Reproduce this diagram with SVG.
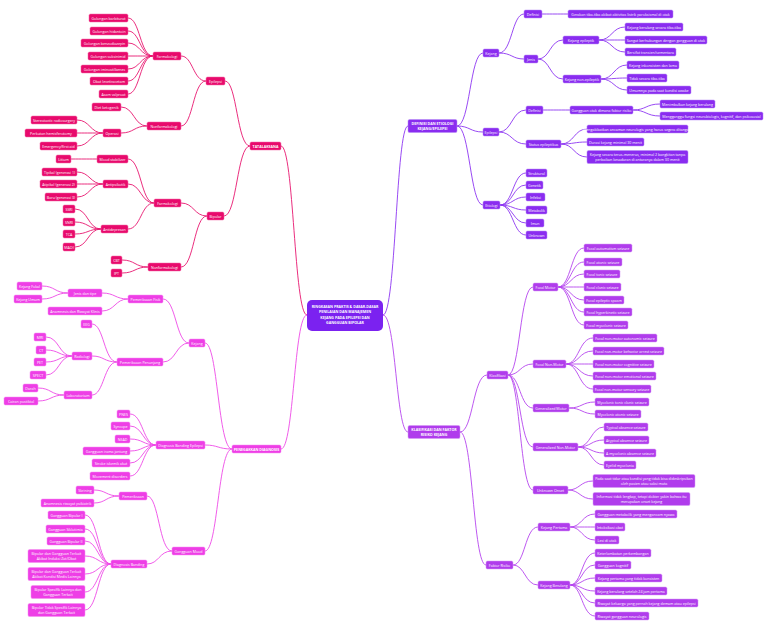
<svg xmlns="http://www.w3.org/2000/svg" width="768" height="629" viewBox="0 0 768 629">
<style>
text{font-family:"Open Sans","Liberation Sans",sans-serif;font-size:3.6px;fill:#fff;text-anchor:middle;dominant-baseline:central}
.b text{font-weight:bold}
path{fill:none;stroke-width:0.9}
.c1 path{stroke:#e8166f}.c2 path{stroke:#ee4ae6}.c3 path{stroke:#8d35f2}.c4 path{stroke:#b545ee}
.n1 rect{fill:#e80a6c;stroke:#f26aa5;stroke-width:0.5}
.n2 rect{fill:#ee3ee6;stroke:#f58ef0;stroke-width:0.5}
.n3 rect{fill:#8a2cf0;stroke:#b58af7;stroke-width:0.5}
.n4 rect{fill:#b03cec;stroke:#d59af5;stroke-width:0.5}
</style>
<rect width="768" height="629" fill="#fff"/>
<g id="connectors">
<g class="c1">
<path d="M307 315C294 315 294 146 281 146"/>
<path d="M250 146C237 146 237 81 225 81M250 146C237 146 237 216 224 216"/>
<path d="M206 81C193 81 193 56 181 56M206 81C193 81 193 126 181 126"/>
<path d="M153 56C140 56 140 18 128 18M153 56C140 56 140 31 128 31M153 56C140 56 140 43 128 43M153 56C140 56 140 56 128 56M153 56C140 56 140 69 128 69M153 56C140 56 140 81 128 81M153 56C140 56 140 94 128 94"/>
<path d="M147 126C134 126 134 107 121 107M147 126C134 126 134 133 121 133"/>
<path d="M103 133C90 133 90 120 77 120M103 133C90 133 90 133 77 133M103 133C90 133 90 146 77 146"/>
<path d="M207 216C194 216 194 203 181 203M207 216C194 216 194 267 181 267"/>
<path d="M154 203C141 203 141 159 128 159M154 203C141 203 141 184 128 184M154 203C141 203 141 229 128 229"/>
<path d="M97 159C84 159 84 159 71 159"/>
<path d="M103 184C90 184 90 172 77 172M103 184C90 184 90 184 77 184M103 184C90 184 90 197 77 197"/>
<path d="M101 229C88 229 88 209 75 209M101 229C88 229 88 222 75 222M101 229C88 229 88 234 75 234M101 229C88 229 88 247 75 247"/>
<path d="M148 267C135 267 135 260 122 260M148 267C135 267 135 273 122 273"/>
</g>
<g class="c2">
<path d="M307 315C294 315 294 449 281 449"/>
<path d="M232 449C218 449 218 343 205 343M232 449C218 449 218 445 205 445M232 449C218 449 218 551 205 551"/>
<path d="M189 343C176 343 176 299 163 299M189 343C176 343 176 362 163 362"/>
<path d="M128 299C115 299 115 293 102 293M128 299C115 299 115 311 102 311"/>
<path d="M68 293C55 293 55 286 42 286M68 293C55 293 55 299 42 299"/>
<path d="M117 362C104 362 104 324 92 324M117 362C104 362 104 356 92 356M117 362C104 362 104 395 92 395"/>
<path d="M72 356C59 356 59 337 46 337M72 356C59 356 59 350 46 350M72 356C59 356 59 362 46 362M72 356C59 356 59 375 46 375"/>
<path d="M64 395C51 395 51 388 38 388M64 395C51 395 51 401 38 401"/>
<path d="M156 445C143 445 143 414 130 414M156 445C143 445 143 426 130 426M156 445C143 445 143 439 130 439M156 445C143 445 143 451 130 451M156 445C143 445 143 463 130 463M156 445C143 445 143 476 130 476"/>
<path d="M172 551C159 551 159 496 147 496M172 551C159 551 159 564 147 564"/>
<path d="M119 496C106 496 106 490 94 490M119 496C106 496 106 503 94 503"/>
<path d="M111 564C98 564 98 515 85 515M111 564C98 564 98 529 85 529M111 564C98 564 98 541 85 541M111 564C98 564 98 556 85 556M111 564C98 564 98 574 85 574M111 564C98 564 98 592 85 592M111 564C98 564 98 610 85 610"/>
</g>
<g class="c3">
<path d="M383 315C396 315 396 126 408 126"/>
<path d="M457 126C470 126 470 53 483 53M457 126C470 126 470 132 483 132M457 126C470 126 470 205 483 205"/>
<path d="M499 53C512 53 512 14 524 14M499 53C512 53 512 59 524 59"/>
<path d="M542 14C555 14 555 14 568 14"/>
<path d="M538 59C550 59 550 40 563 40M538 59C550 59 550 79 563 79"/>
<path d="M599 40C612 40 612 27 625 27M599 40C612 40 612 40 625 40M599 40C612 40 612 52 625 52"/>
<path d="M601 79C614 79 614 65 627 65M601 79C614 79 614 78 627 78M601 79C614 79 614 90 627 90"/>
<path d="M499 132C512 132 512 110 526 110M499 132C512 132 512 144 526 144"/>
<path d="M543 110C556 110 556 110 570 110"/>
<path d="M633 110C646 110 646 104 660 104M633 110C646 110 646 116 660 116"/>
<path d="M561 144C574 144 574 129 587 129M561 144C574 144 574 142 587 142M561 144C574 144 574 157 587 157"/>
<path d="M500 205C513 205 513 173 526 173M500 205C513 205 513 185 526 185M500 205C513 205 513 197 526 197M500 205C513 205 513 210 526 210M500 205C513 205 513 223 526 223M500 205C513 205 513 235 526 235"/>
</g>
<g class="c4">
<path d="M383 315C396 315 396 432 408 432"/>
<path d="M460 432C473 432 473 375 487 375M460 432C473 432 473 565 486 565"/>
<path d="M508 375C520 375 520 287 533 287M508 375C520 375 520 364 533 364M508 375C520 375 520 408 533 408M508 375C520 375 520 447 533 447M508 375C520 375 520 490 533 490"/>
<path d="M558 287C571 287 571 248 584 248M558 287C571 287 571 262 584 262M558 287C571 287 571 274 584 274M558 287C571 287 571 287 584 287M558 287C571 287 571 300 584 300M558 287C571 287 571 312 584 312M558 287C571 287 571 325 584 325"/>
<path d="M566 364C579 364 579 338 593 338M566 364C579 364 579 351 593 351M566 364C579 364 579 364 593 364M566 364C579 364 579 376 593 376M566 364C579 364 579 389 593 389"/>
<path d="M569 408C582 408 582 402 595 402M569 408C582 408 582 414 595 414"/>
<path d="M578 447C591 447 591 427 604 427M578 447C591 447 591 440 604 440M578 447C591 447 591 453 604 453M578 447C591 447 591 465 604 465"/>
<path d="M568 490C580 490 580 481 593 481M568 490C580 490 580 499 593 499"/>
<path d="M513 565C525 565 525 527 538 527M513 565C525 565 525 585 538 585"/>
<path d="M570 527C582 527 582 514 595 514M570 527C582 527 582 527 595 527M570 527C582 527 582 540 595 540"/>
<path d="M570 585C582 585 582 553 595 553M570 585C582 585 582 565 595 565M570 585C582 585 582 578 595 578M570 585C582 585 582 591 595 591M570 585C582 585 582 603 595 603M570 585C582 585 582 616 595 616"/>
</g>
</g>
<g id="center" class="b"><rect x="307" y="300" width="76" height="31" rx="5" fill="#7b22f0"/><text x="345" y="306">RINGKASAN PRAKTIS &amp; DASAR-DASAR</text><text x="345" y="311.5">PENILAIAN DAN MANAJEMEN</text><text x="345" y="317">KEJANG PADA EPILEPSI DAN</text><text x="345" y="322.5">GANGGUAN BIPOLAR</text></g>
<g class="n1">
<g id="tatalaksana" class="b"><rect x="250" y="142" width="31" height="8" rx="1.5"/><text x="265.5" y="146">TATALAKSANA</text></g>
<g id="epilepsi-t"><rect x="206" y="77" width="19" height="8" rx="1.5"/><text x="215.5" y="81">Epilepsi</text></g>
<g id="bipolar-t"><rect x="207" y="212" width="17" height="8" rx="1.5"/><text x="215.5" y="216">Bipolar</text></g>
<g id="farm1"><rect x="153" y="52" width="28" height="8" rx="1.5"/><text x="167" y="56">Farmakologi</text></g>
<g id="nonfarm1"><rect x="147" y="122" width="34" height="8" rx="1.5"/><text x="164" y="126">Nonfarmakologi</text></g>
<g id="g1"><rect x="89" y="14" width="39" height="8" rx="1.5"/><text x="108.5" y="18">Golongan barbiturat</text></g>
<g id="g2"><rect x="90" y="27" width="38" height="8" rx="1.5"/><text x="109" y="31">Golongan hidantoin</text></g>
<g id="g3"><rect x="81" y="39" width="47" height="8" rx="1.5"/><text x="104.5" y="43">Golongan benzodiazepin</text></g>
<g id="g4"><rect x="88" y="52" width="40" height="8" rx="1.5"/><text x="108" y="56">Golongan suksinimid</text></g>
<g id="g5"><rect x="81" y="65" width="47" height="8" rx="1.5"/><text x="104.5" y="69">Golongan iminostilbenes</text></g>
<g id="g6"><rect x="90" y="77" width="38" height="8" rx="1.5"/><text x="109" y="81">Obat levetiracetam</text></g>
<g id="g7"><rect x="99" y="90" width="29" height="8" rx="1.5"/><text x="113.5" y="94">Asam valproat</text></g>
<g id="diet"><rect x="92" y="103" width="29" height="8" rx="1.5"/><text x="106.5" y="107">Diet ketogenik</text></g>
<g id="operasi"><rect x="103" y="129" width="18" height="8" rx="1.5"/><text x="112" y="133">Operasi</text></g>
<g id="op1"><rect x="31" y="116" width="46" height="8" rx="1.5"/><text x="54" y="120">Stereotactic radiosurgery</text></g>
<g id="op2"><rect x="25" y="129" width="52" height="8" rx="1.5"/><text x="51" y="133">Perkutan hemisferotomy</text></g>
<g id="op3"><rect x="40" y="142" width="37" height="8" rx="1.5"/><text x="58.5" y="146">Emergency/first aid</text></g>
<g id="farm2"><rect x="154" y="199" width="27" height="8" rx="1.5"/><text x="167.5" y="203">Farmakologi</text></g>
<g id="nonfarm2"><rect x="148" y="263" width="33" height="8" rx="1.5"/><text x="164.5" y="267">Nonfarmakologi</text></g>
<g id="mood"><rect x="97" y="155" width="31" height="8" rx="1.5"/><text x="112.5" y="159">Mood stabilizer</text></g>
<g id="litium"><rect x="56" y="155" width="15" height="8" rx="1.5"/><text x="63.5" y="159">Litium</text></g>
<g id="antipsi"><rect x="103" y="180" width="25" height="8" rx="1.5"/><text x="115.5" y="184">Antipsikotik</text></g>
<g id="ap1"><rect x="42" y="168" width="35" height="8" rx="1.5"/><text x="59.5" y="172">Tipikal (generasi 1)</text></g>
<g id="ap2"><rect x="40" y="180" width="37" height="8" rx="1.5"/><text x="58.5" y="184">Atipikal (generasi 2)</text></g>
<g id="ap3"><rect x="45" y="193" width="32" height="8" rx="1.5"/><text x="61" y="197">Baru (generasi 3)</text></g>
<g id="antidep"><rect x="101" y="225" width="27" height="8" rx="1.5"/><text x="114.5" y="229">Antidepresan</text></g>
<g id="ssri"><rect x="63" y="205" width="12" height="8" rx="1.5"/><text x="69" y="209">SSRI</text></g>
<g id="snri"><rect x="63" y="218" width="12" height="8" rx="1.5"/><text x="69" y="222">SNRI</text></g>
<g id="tca"><rect x="63" y="230" width="12" height="8" rx="1.5"/><text x="69" y="234">TCA</text></g>
<g id="maoi"><rect x="63" y="243" width="12" height="8" rx="1.5"/><text x="69" y="247">MAOI</text></g>
<g id="cbt"><rect x="111" y="256" width="11" height="8" rx="1.5"/><text x="116.5" y="260">CBT</text></g>
<g id="ipt"><rect x="111" y="269" width="11" height="8" rx="1.5"/><text x="116.5" y="273">IPT</text></g>
</g>
<g class="n2">
<g id="penegakkan" class="b"><rect x="232" y="445" width="49" height="8" rx="1.5"/><text x="256.5" y="449">PENEGAKKAN DIAGNOSIS</text></g>
<g id="kejang-d"><rect x="189" y="339" width="16" height="8" rx="1.5"/><text x="197" y="343">Kejang</text></g>
<g id="pfisik"><rect x="128" y="295" width="35" height="8" rx="1.5"/><text x="145.5" y="299">Pemeriksaan Fisik</text></g>
<g id="jenis-tipe"><rect x="68" y="289" width="34" height="8" rx="1.5"/><text x="85" y="293">Jenis dan tipe</text></g>
<g id="kfokal"><rect x="17" y="282" width="25" height="8" rx="1.5"/><text x="29.5" y="286">Kejang Fokal</text></g>
<g id="kumum"><rect x="14" y="295" width="28" height="8" rx="1.5"/><text x="28" y="299">Kejang Umum</text></g>
<g id="anamnesis"><rect x="48" y="307" width="54" height="8" rx="1.5"/><text x="75" y="311">Anamnesis dan Riwayat Klinis</text></g>
<g id="ppenunjang"><rect x="117" y="358" width="46" height="8" rx="1.5"/><text x="140" y="362">Pemeriksaan Penunjang</text></g>
<g id="eeg"><rect x="81" y="320" width="11" height="8" rx="1.5"/><text x="86.5" y="324">EEG</text></g>
<g id="radiologi"><rect x="72" y="352" width="20" height="8" rx="1.5"/><text x="82" y="356">Radiologi</text></g>
<g id="mri"><rect x="34" y="333" width="12" height="8" rx="1.5"/><text x="40" y="337">MRI</text></g>
<g id="ct"><rect x="36" y="346" width="10" height="8" rx="1.5"/><text x="41" y="350">CT</text></g>
<g id="pet"><rect x="34" y="358" width="12" height="8" rx="1.5"/><text x="40" y="362">PET</text></g>
<g id="spect"><rect x="30" y="371" width="16" height="8" rx="1.5"/><text x="38" y="375">SPECT</text></g>
<g id="lab"><rect x="64" y="391" width="28" height="8" rx="1.5"/><text x="78" y="395">Laboratorium</text></g>
<g id="darah"><rect x="23" y="384" width="15" height="8" rx="1.5"/><text x="30.5" y="388">Darah</text></g>
<g id="cairan"><rect x="4" y="397" width="34" height="8" rx="1.5"/><text x="21" y="401">Cairan postiktal</text></g>
<g id="dbe"><rect x="156" y="441" width="49" height="8" rx="1.5"/><text x="180.5" y="445">Diagnosis Banding Epilepsi</text></g>
<g id="pnes"><rect x="117" y="410" width="13" height="8" rx="1.5"/><text x="123.5" y="414">PNES</text></g>
<g id="syncope"><rect x="111" y="422" width="19" height="8" rx="1.5"/><text x="120.5" y="426">Syncope</text></g>
<g id="nead"><rect x="115" y="435" width="15" height="8" rx="1.5"/><text x="122.5" y="439">NEAD</text></g>
<g id="irama"><rect x="83" y="447" width="47" height="8" rx="1.5"/><text x="106.5" y="451">Gangguan irama jantung</text></g>
<g id="stroke"><rect x="92" y="459" width="38" height="8" rx="1.5"/><text x="111" y="463">Stroke iskemik akut</text></g>
<g id="movement"><rect x="90" y="472" width="40" height="8" rx="1.5"/><text x="110" y="476">Movement disorders</text></g>
<g id="gmood"><rect x="172" y="547" width="33" height="8" rx="1.5"/><text x="188.5" y="551">Gangguan Mood</text></g>
<g id="pemeriksaan"><rect x="119" y="492" width="28" height="8" rx="1.5"/><text x="133" y="496">Pemeriksaan</text></g>
<g id="skrining"><rect x="76" y="486" width="18" height="8" rx="1.5"/><text x="85" y="490">Skrining</text></g>
<g id="anampsi"><rect x="41" y="499" width="53" height="8" rx="1.5"/><text x="67.5" y="503">Anamnesis riwayat psikiatrik</text></g>
<g id="db"><rect x="111" y="560" width="36" height="8" rx="1.5"/><text x="129" y="564">Diagnosis Banding</text></g>
<g id="db1"><rect x="48" y="511" width="37" height="8" rx="1.5"/><text x="66.5" y="515">Gangguan Bipolar I</text></g>
<g id="db2"><rect x="46" y="525" width="39" height="8" rx="1.5"/><text x="65.5" y="529">Gangguan Siklotimia</text></g>
<g id="db3"><rect x="47" y="537" width="38" height="8" rx="1.5"/><text x="66" y="541">Gangguan Bipolar II</text></g>
<g id="db4"><rect x="28" y="549.5" width="57" height="13" rx="1.5"/><text x="56.5" y="553.5">Bipolar dan Gangguan Terkait</text><text x="56.5" y="558.5">Akibat Induksi Zat/Obat</text></g>
<g id="db5"><rect x="28" y="567.5" width="57" height="13" rx="1.5"/><text x="56.5" y="571.5">Bipolar dan Gangguan Terkait</text><text x="56.5" y="576.5">Akibat Kondisi Medis Lainnya</text></g>
<g id="db6"><rect x="31" y="585.5" width="54" height="13" rx="1.5"/><text x="58" y="589.5">Bipolar Spesifik Lainnya dan</text><text x="58" y="594.5">Gangguan Terkait</text></g>
<g id="db7"><rect x="28" y="603.5" width="57" height="13" rx="1.5"/><text x="56.5" y="607.5">Bipolar Tidak Spesifik Lainnya</text><text x="56.5" y="612.5">dan Gangguan Terkait</text></g>
</g>
<g class="n3">
<g id="definisi-etiologi" class="b"><rect x="408" y="119.5" width="49" height="13" rx="1.5"/><text x="432.5" y="123.5">DEFINISI DAN ETIOLOGI</text><text x="432.5" y="128.5">KEJANG/EPILEPSI</text></g>
<g id="kejang-r"><rect x="483" y="49" width="16" height="8" rx="1.5"/><text x="491" y="53">Kejang</text></g>
<g id="epilepsi-r"><rect x="483" y="128" width="16" height="8" rx="1.5"/><text x="491" y="132">Epilepsi</text></g>
<g id="etiologi"><rect x="483" y="201" width="17" height="8" rx="1.5"/><text x="491.5" y="205">Etiologi</text></g>
<g id="def1"><rect x="524" y="10" width="18" height="8" rx="1.5"/><text x="533" y="14">Definisi</text></g>
<g id="def1t"><rect x="568" y="10" width="105" height="8" rx="1.5"/><text x="620.5" y="14">Gerakan tiba-tiba akibat aktivitas listrik paroksismal di otak</text></g>
<g id="jenis"><rect x="524" y="55" width="14" height="8" rx="1.5"/><text x="531" y="59">Jenis</text></g>
<g id="kep"><rect x="563" y="36" width="36" height="8" rx="1.5"/><text x="581" y="40">Kejang epileptik</text></g>
<g id="knon"><rect x="563" y="75" width="38" height="8" rx="1.5"/><text x="582" y="79">Kejang non-epileptik</text></g>
<g id="kep1"><rect x="625" y="23" width="58" height="8" rx="1.5"/><text x="654" y="27">Kejang berulang secara tiba-tiba</text></g>
<g id="kep2"><rect x="625" y="36" width="82" height="8" rx="1.5"/><text x="666" y="40">Sangat berhubungan dengan gangguan di otak</text></g>
<g id="kep3"><rect x="625" y="48" width="51" height="8" rx="1.5"/><text x="650.5" y="52">Bersifat transien/sementara</text></g>
<g id="kn1"><rect x="627" y="61" width="52" height="8" rx="1.5"/><text x="653" y="65">Kejang inkonsisten dan lama</text></g>
<g id="kn2"><rect x="627" y="74" width="40" height="8" rx="1.5"/><text x="647" y="78">Tidak secara tiba-tiba</text></g>
<g id="kn3"><rect x="627" y="86" width="64" height="8" rx="1.5"/><text x="659" y="90">Umumnya pada saat kondisi awake</text></g>
<g id="def2"><rect x="526" y="106" width="17" height="8" rx="1.5"/><text x="534.5" y="110">Definisi</text></g>
<g id="def2t"><rect x="570" y="106" width="63" height="8" rx="1.5"/><text x="601.5" y="110">Gangguan otak dimana faktor risiko</text></g>
<g id="d2a"><rect x="660" y="100" width="55" height="8" rx="1.5"/><text x="687.5" y="104">Menimbulkan kejang berulang</text></g>
<g id="d2b"><rect x="660" y="112" width="103" height="8" rx="1.5"/><text x="711.5" y="116">Mengganggu fungsi neurobiologis, kognitif, dan psikososial</text></g>
<g id="status"><rect x="526" y="140" width="35" height="8" rx="1.5"/><text x="543.5" y="144">Status epileptikus</text></g>
<g id="s1"><rect x="587" y="125" width="101" height="8" rx="1.5"/><text x="637.5" y="129">Mengakibatkan ancaman neurologis yang harus segera ditangani</text></g>
<g id="s2"><rect x="587" y="138" width="57" height="8" rx="1.5"/><text x="615.5" y="142">Durasi kejang minimal 30 menit</text></g>
<g id="s3"><rect x="587" y="150.5" width="101" height="13" rx="1.5"/><text x="637.5" y="154.5">Kejang secara terus-menerus, minimal 2 bangkitan tanpa</text><text x="637.5" y="159.5">perbaikan kesadaran di antaranya dalam 30 menit</text></g>
<g id="e1"><rect x="526" y="169" width="21" height="8" rx="1.5"/><text x="536.5" y="173">Struktural</text></g>
<g id="e2"><rect x="526" y="181" width="17" height="8" rx="1.5"/><text x="534.5" y="185">Genetik</text></g>
<g id="e3"><rect x="526" y="193" width="19" height="8" rx="1.5"/><text x="535.5" y="197">Infeksi</text></g>
<g id="e4"><rect x="526" y="206" width="21" height="8" rx="1.5"/><text x="536.5" y="210">Metabolik</text></g>
<g id="e5"><rect x="526" y="219" width="18" height="8" rx="1.5"/><text x="535" y="223">Imun</text></g>
<g id="e6"><rect x="526" y="231" width="21" height="8" rx="1.5"/><text x="536.5" y="235">Unknown</text></g>
</g>
<g class="n4">
<g id="klasifikasi-faktor" class="b"><rect x="408" y="425.5" width="52" height="13" rx="1.5"/><text x="434" y="429.5">KLASIFIKASI DAN FAKTOR</text><text x="434" y="434.5">RISIKO KEJANG</text></g>
<g id="klasifikasi"><rect x="487" y="371" width="21" height="8" rx="1.5"/><text x="497.5" y="375">Klasifikasi</text></g>
<g id="fm"><rect x="533" y="283" width="25" height="8" rx="1.5"/><text x="545.5" y="287">Focal Motor</text></g>
<g id="fm1"><rect x="584" y="244" width="48" height="8" rx="1.5"/><text x="608" y="248">Focal automatism seizure</text></g>
<g id="fm2"><rect x="584" y="258" width="38" height="8" rx="1.5"/><text x="603" y="262">Focal atonic seizure</text></g>
<g id="fm3"><rect x="584" y="270" width="36" height="8" rx="1.5"/><text x="602" y="274">Focal tonic seizure</text></g>
<g id="fm4"><rect x="584" y="283" width="37" height="8" rx="1.5"/><text x="602.5" y="287">Focal clonic seizure</text></g>
<g id="fm5"><rect x="584" y="296" width="40" height="8" rx="1.5"/><text x="604" y="300">Focal epileptic spasm</text></g>
<g id="fm6"><rect x="584" y="308" width="48" height="8" rx="1.5"/><text x="608" y="312">Focal hyperkinetic seizure</text></g>
<g id="fm7"><rect x="584" y="321" width="44" height="8" rx="1.5"/><text x="606" y="325">Focal myoclonic seizure</text></g>
<g id="fnm"><rect x="533" y="360" width="33" height="8" rx="1.5"/><text x="549.5" y="364">Focal Non-Motor</text></g>
<g id="fnm1"><rect x="593" y="334" width="64" height="8" rx="1.5"/><text x="625" y="338">Focal non-motor autonomic seizure</text></g>
<g id="fnm2"><rect x="593" y="347" width="71" height="8" rx="1.5"/><text x="628.5" y="351">Focal non-motor behavior arrest seizure</text></g>
<g id="fnm3"><rect x="593" y="360" width="61" height="8" rx="1.5"/><text x="623.5" y="364">Focal non-motor cognitive seizure</text></g>
<g id="fnm4"><rect x="593" y="372" width="63" height="8" rx="1.5"/><text x="624.5" y="376">Focal non-motor emotional seizure</text></g>
<g id="fnm5"><rect x="593" y="385" width="58" height="8" rx="1.5"/><text x="622" y="389">Focal non-motor sensory seizure</text></g>
<g id="gm"><rect x="533" y="404" width="36" height="8" rx="1.5"/><text x="551" y="408">Generalized Motor</text></g>
<g id="gm1"><rect x="595" y="398" width="54" height="8" rx="1.5"/><text x="622" y="402">Myoclonic tonic clonic seizure</text></g>
<g id="gm2"><rect x="595" y="410" width="46" height="8" rx="1.5"/><text x="618" y="414">Myoclonic atonic seizure</text></g>
<g id="gnm"><rect x="533" y="443" width="45" height="8" rx="1.5"/><text x="555.5" y="447">Generalized Non-Motor</text></g>
<g id="gnm1"><rect x="604" y="423" width="44" height="8" rx="1.5"/><text x="626" y="427">Typical absence seizure</text></g>
<g id="gnm2"><rect x="604" y="436" width="45" height="8" rx="1.5"/><text x="626.5" y="440">Atypical absence seizure</text></g>
<g id="gnm3"><rect x="604" y="449" width="52" height="8" rx="1.5"/><text x="630" y="453">A myoclonic absence seizure</text></g>
<g id="gnm4"><rect x="604" y="461" width="32" height="8" rx="1.5"/><text x="620" y="465">Eyelid myoclonia</text></g>
<g id="uo"><rect x="533" y="486" width="35" height="8" rx="1.5"/><text x="550.5" y="490">Unknown Onset</text></g>
<g id="uo1"><rect x="593" y="474.5" width="102" height="13" rx="1.5"/><text x="644" y="478.5">Pada saat tidur atau kondisi yang tidak bisa dideskripsikan</text><text x="644" y="483.5">oleh pasien atau saksi mata</text></g>
<g id="uo2"><rect x="593" y="492.5" width="97" height="13" rx="1.5"/><text x="641.5" y="496.5">Informasi tidak lengkap, tetapi dokter yakin bahwa itu</text><text x="641.5" y="501.5">merupakan onset kejang</text></g>
<g id="fr"><rect x="486" y="561" width="27" height="8" rx="1.5"/><text x="499.5" y="565">Faktor Risiko</text></g>
<g id="kp"><rect x="538" y="523" width="32" height="8" rx="1.5"/><text x="554" y="527">Kejang Pertama</text></g>
<g id="kp1"><rect x="595" y="510" width="82" height="8" rx="1.5"/><text x="636" y="514">Gangguan metabolik yang mengancam nyawa</text></g>
<g id="kp2"><rect x="595" y="523" width="30" height="8" rx="1.5"/><text x="610" y="527">Intoksikasi obat</text></g>
<g id="kp3"><rect x="595" y="536" width="24" height="8" rx="1.5"/><text x="607" y="540">Lesi di otak</text></g>
<g id="kb"><rect x="538" y="581" width="32" height="8" rx="1.5"/><text x="554" y="585">Kejang Berulang</text></g>
<g id="kb1"><rect x="595" y="549" width="56" height="8" rx="1.5"/><text x="623" y="553">Keterlambatan perkembangan</text></g>
<g id="kb2"><rect x="595" y="561" width="36" height="8" rx="1.5"/><text x="613" y="565">Gangguan kognitif</text></g>
<g id="kb3"><rect x="595" y="574" width="67" height="8" rx="1.5"/><text x="628.5" y="578">Kejang pertama yang tidak konsisten</text></g>
<g id="kb4"><rect x="595" y="587" width="72" height="8" rx="1.5"/><text x="631" y="591">Kejang berulang setelah 24 jam pertama</text></g>
<g id="kb5"><rect x="595" y="599" width="103" height="8" rx="1.5"/><text x="646.5" y="603">Riwayat keluarga yang pernah kejang demam atau epilepsi</text></g>
<g id="kb6"><rect x="595" y="612" width="54" height="8" rx="1.5"/><text x="622" y="616">Riwayat gangguan neurologis</text></g>
</g>
</svg>
